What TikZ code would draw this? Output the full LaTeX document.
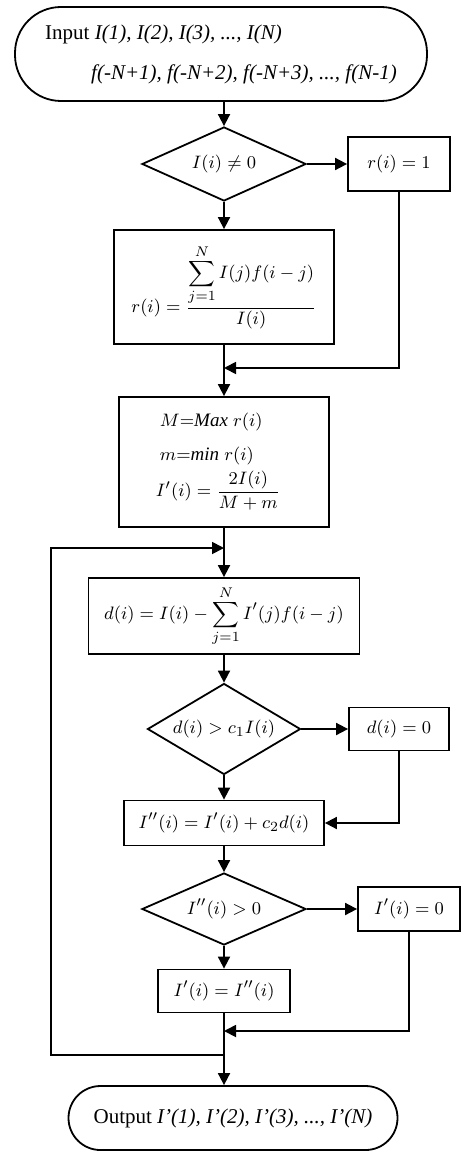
\documentclass[tikz,border=0pt]{standalone}
\usepackage{amsmath}
\usepackage{fontspec}
\setmainfont{Liberation Serif}
\usetikzlibrary{arrows.meta,shapes.geometric,calc}

\begin{document}
\begin{tikzpicture}[x=0.5pt,y=-0.5pt,
    box/.style={draw,line width=0.9pt,inner sep=2pt,font=\fontsize{9.5}{12}\selectfont},
    test/.style={box,diamond,inner sep=0pt,aspect=2},
    term/.style={box,rounded corners=#1,font=\fontsize{10.5}{13}\selectfont},
    arr/.style={line width=0.9pt,-{Triangle[length=6pt,width=6pt]}}]
    \useasboundingbox (0,0) rectangle (474,1155);

    \node[term=23pt,minimum width=206pt,minimum height=47pt,align=left] (in) at (221,54)
      {Input \textit{I(1), I(2), I(3), ..., I(N)}\\[7pt]\hspace*{23pt}\textit{f(-N+1), f(-N+2), f(-N+3), ..., f(N-1)}};
    \node[test,minimum width=82pt,minimum height=37pt] (d1) at (224,164) {$I(i)\neq 0$};
    \node[box,minimum width=51pt,minimum height=27pt] (r1) at (399,164) {$r(i)=1$};
    \node[box,minimum width=110pt,minimum height=57pt] (b1) at (224,287)
      {$r(i)=\dfrac{\displaystyle\sum_{j=1}^{N}I(j)f(i-j)}{I(i)}$};
    \node[box,minimum width=105pt,minimum height=65pt,align=left] (b2) at (224,462)
      {\hspace*{2pt}$M{=}\mathit{Max}\;r(i)$\\[5pt]\hspace*{2pt}$m{=}\mathit{min}\;r(i)$\\[2pt]$I'(i)=\dfrac{2I(i)}{M+m}$\hspace*{6pt}};
    \node[box,minimum width=135.5pt,minimum height=38pt] (b3) at (224,616)
      {$d(i)=I(i)-\displaystyle\sum_{j=1}^{N}I'(j)f(i-j)$};
    \node[test,aspect=1.7,minimum width=76.5pt,minimum height=45.5pt] (d2) at (224,729) {$d(i)>c_1I(i)$};
    \node[box,minimum width=50pt,minimum height=21.5pt] (r2) at (399,729) {$d(i)=0$};
    \node[box,minimum width=100pt,minimum height=22.5pt] (b4) at (224,823) {$I''(i)=I'(i)+c_2d(i)$};
    \node[test,minimum width=82pt,minimum height=36pt] (d3) at (224,909) {$I''(i)>0$};
    \node[box,minimum width=51pt,minimum height=22pt] (r3) at (409,909) {$I'(i)=0$};
    \node[box,minimum width=66pt,minimum height=21.5pt] (b5) at (224,991) {$I'(i)=I''(i)$};
    \node[term=16pt,minimum width=164.5pt,minimum height=32pt] (out) at (233,1118)
      {Output \textit{I’(1), I’(2), I’(3), ..., I’(N)}};

    \coordinate (j1) at (224,368);
    \coordinate (j2) at (224,548);
    \coordinate (j4) at (224,1031);
    \coordinate (j3) at (224,1055);
    \coordinate (lb) at (51,1055);

    \draw[arr] (in.south -| d1.north) -- (d1.north);
    \draw[arr] (d1.east) -- (r1.west);
    \draw[arr] (d1.south) -- (b1.north);
    \draw[arr] (r1.south) |- (j1);
    \draw[arr] (b1.south) -- (b2.north);
    \draw[arr] (b2.south) -- (b3.north);
    \draw[arr] (j3) -- (lb) |- (j2);
    \draw[arr] (b3.south) -- (d2.north);
    \draw[arr] (d2.east) -- (r2.west);
    \draw[arr] (d2.south) -- (b4.north);
    \draw[arr] (r2.south) |- (b4.east);
    \draw[arr] (b4.south) -- (d3.north);
    \draw[arr] (d3.east) -- (r3.west);
    \draw[arr] (d3.south) -- (b5.north);
    \draw[arr] (r3.south) |- (j4);
    \draw[arr] (b5.south) -- (b5.south |- out.north);
\end{tikzpicture}
\end{document}
